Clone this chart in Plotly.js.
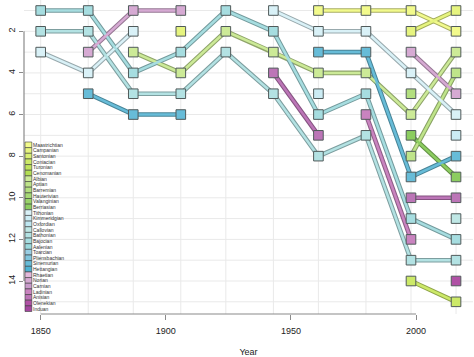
<!DOCTYPE html>
<html><head><meta charset="utf-8">
<script src="https://cdn.plot.ly/plotly-3.0.1.min.js"></script>
<style>html,body{margin:0;padding:0;background:#fff}#chart{width:474px;height:357px}</style>
</head><body><div id="chart"></div>
<script>
// ---- data ----
const years = [1850, 1869, 1887, 1906, 1924, 1943, 1961, 1980, 1998, 2016];
const stageNames = ['Maastrichtian','Campanian','Santonian','Coniacian','Turonian','Cenomanian',
  'Albian','Aptian','Barremian','Hauterivian','Valanginian','Berriasian',
  'Tithonian','Kimmeridgian','Oxfordian','Callovian','Bathonian','Bajocian','Aalenian',
  'Toarcian','Pliensbachian','Sinemurian','Hettangian',
  'Rhaetian','Norian','Carnian','Ladinian','Anisian','Olenekian','Induan'];
const stageColors = ['#F2FA8C','#E6F47F','#D9EF74','#CCE968','#BFE35D','#B3DE53',
  '#CCEA97','#BFE48A','#B3DF7F','#A6D975','#99D36A','#8CCD60',
  '#D9F1F7','#CCECF4','#BFE7F1','#BFE7E5','#B3E2E3','#A6DDE0','#9AD9DD',
  '#99CEE3','#80C5DD','#67BCD8','#4EB3D3',
  '#E3B9DB','#D6AAD3','#C99BCB','#C983BF','#BC75B7','#B051A5','#A4469F'];
const xTicks = [1850, 1900, 1950, 2000];
const yTicks = [2, 4, 6, 8, 10, 12, 14];

// rank of each stage per year (null = not ranked)
const maastrichtian = [null, null, null, null, null, null, 1, 1, 1, 2];
const campanian     = [null, null, null, 2, null, null, null, null, 2, 1];
const coniacian     = [null, null, null, null, null, null, null, null, 14, 15];
const albian        = [null, null, 3, 4, 2, 3, 4, 4, 6, 3];
const aptian        = [null, null, null, null, null, null, null, null, 8, 4];
const barremian     = [null, null, null, null, null, null, null, null, 5, null];
const berriasian    = [null, null, null, null, null, null, null, null, 7, 9];
const tithonian     = [3, 4, 2, null, null, 1, 2, 2, 4, 6];
const kimmeridgian  = [null, null, null, null, null, null, 5, null, null, 7];
const callovian     = [null, null, null, null, null, null, null, null, null, 11];
const bathonian     = [2, 2, 5, 5, 3, 5, 8, 7, 13, 13];
const bajocian      = [1, 1, 4, 3, 1, 2, 6, 5, 11, 12];
const sinemurian    = [null, 5, 6, 6, null, null, 3, 3, 9, 8];
const norian        = [null, 3, 1, 1, null, null, null, null, 3, 5];
const ladinian      = [null, null, null, null, null, null, null, 6, 12, null];
const anisian       = [null, null, null, null, null, 4, 7, null, 10, 10];
const olenekian     = [null, null, null, null, null, null, null, null, null, 14];

const series = [
  ['Maastrichtian', maastrichtian], ['Campanian', campanian], ['Coniacian', coniacian],
  ['Albian', albian], ['Aptian', aptian], ['Barremian', barremian], ['Berriasian', berriasian],
  ['Tithonian', tithonian], ['Kimmeridgian', kimmeridgian], ['Callovian', callovian],
  ['Bathonian', bathonian], ['Bajocian', bajocian], ['Sinemurian', sinemurian],
  ['Norian', norian], ['Ladinian', ladinian], ['Anisian', anisian], ['Olenekian', olenekian]
];

// ---- helpers ----
function colorOf(name){ return stageColors[stageNames.indexOf(name)]; }
function darken(hex, f){
  const n = parseInt(hex.slice(1), 16);
  const r = Math.round(((n >> 16) & 255) * f), g = Math.round(((n >> 8) & 255) * f), b = Math.round((n & 255) * f);
  return 'rgb(' + r + ',' + g + ',' + b + ')';
}

const traces = [];
series.forEach(([name, vals]) => {
  traces.push({type:'scatter', mode:'lines', x:years, y:vals, connectgaps:false, hoverinfo:'skip',
    line:{color:darken(colorOf(name), 0.7), width:4.6}});
});
series.forEach(([name, vals]) => {
  traces.push({type:'scatter', mode:'lines', x:years, y:vals, connectgaps:false, hoverinfo:'skip',
    line:{color:colorOf(name), width:2.5}});
});
series.forEach(([name, vals]) => {
  traces.push({type:'scatter', mode:'markers', x:years, y:vals, name:name, hoverinfo:'skip',
    marker:{symbol:'square', size:9.6, color:colorOf(name), line:{color:'#505a5a', width:1}}});
});

// ---- grid, axis lines, legend ----
const PLOT_H = 314, PLOT_L = 24, PLOT_W = 449;
const shapes = [];
for (let v = 1; v <= 15; v++) {
  shapes.push({type:'line', layer:'below', xref:'paper', x0:0, x1:1, yref:'y', y0:v, y1:v,
    line:{color:'#e9e9e9', width:1}});
}
years.forEach(yr => shapes.push({type:'line', layer:'below', xref:'x', x0:yr, x1:yr, yref:'paper', y0:0, y1:1,
  line:{color:'#e9e9e9', width:1}}));
shapes.push({type:'line', xref:'x', x0:xTicks[0], x1:xTicks[xTicks.length-1], yref:'paper', y0:0, y1:0,
  line:{color:'#8a8a8a', width:1.2}});
shapes.push({type:'line', xref:'paper', x0:0, x1:0, yref:'y', y0:yTicks[0], y1:yTicks[yTicks.length-1],
  line:{color:'#8a8a8a', width:1.2}});

const annotations = [];
const LG_TOP = 142, LG_STEP = 5.65;
stageNames.forEach((nm, i) => {
  const top = LG_TOP + i * LG_STEP, bot = top + LG_STEP;
  shapes.push({type:'rect', layer:'above', xref:'paper', yref:'paper',
    x0:(25 - PLOT_L) / PLOT_W, x1:(31.8 - PLOT_L) / PLOT_W,
    y0:1 - bot / PLOT_H, y1:1 - top / PLOT_H,
    fillcolor:stageColors[i], line:{color:'#3a3a3a', width:0.6}});
  annotations.push({xref:'paper', yref:'paper', x:(31 - PLOT_L) / PLOT_W, y:1 - (top + LG_STEP / 2) / PLOT_H,
    xanchor:'left', yanchor:'middle', showarrow:false, text:nm,
    font:{size:5, color:'#333', family:'Liberation Sans, Arial, sans-serif'}});
});

const layout = {
  width:474, height:357,
  margin:{l:24, r:1, t:0, b:43, pad:0},
  paper_bgcolor:'#ffffff', plot_bgcolor:'#ffffff',
  showlegend:false,
  font:{family:'Liberation Sans, Arial, sans-serif', size:9, color:'#222'},
  xaxis:{range:[1843.33, 2022.78], tickmode:'array', tickvals:xTicks, ticktext:xTicks.map(String),
    ticks:'outside', ticklen:5, tickwidth:1, tickcolor:'#8a8a8a', showgrid:false, zeroline:false, showline:false,
    ticklabelstandoff:3,
    tickfont:{size:9, color:'#222'}, title:{text:'Year', font:{size:9, color:'#222'}, standoff:14}},
  yaxis:{range:[15.586, 0.4955], tickmode:'array', tickvals:yTicks, ticktext:yTicks.map(String), tickangle:-90,
    ticks:'outside', ticklen:4, tickwidth:1, tickcolor:'#8a8a8a', showgrid:false, zeroline:false, showline:false,
    tickfont:{size:9, color:'#222'}},
  shapes:shapes, annotations:annotations
};

Plotly.newPlot('chart', traces, layout, {staticPlot:true, displayModeBar:false});
</script></body></html>
